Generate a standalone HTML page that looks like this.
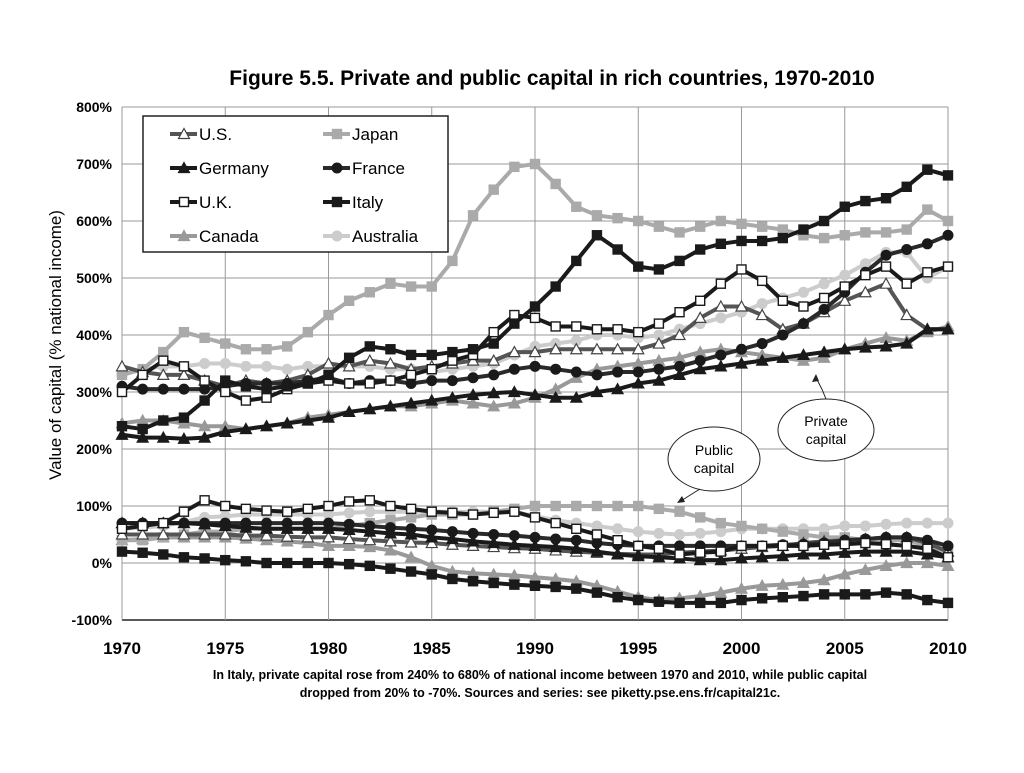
<!DOCTYPE html>
<html><head><meta charset="utf-8"><style>
body{margin:0;background:#fff;font-family:"Liberation Sans",Arial,sans-serif}
svg text{font-family:"Liberation Sans",Arial,sans-serif}
</style></head><body>
<svg id="c" width="1024" height="768" xmlns="http://www.w3.org/2000/svg">
<text x="552" y="85" text-anchor="middle" font-size="21" font-weight="bold">Figure 5.5. Private and public capital in rich countries, 1970-2010</text>
<g id="grid"></g><g id="series"></g>
<text transform="translate(61,345) rotate(-90)" text-anchor="middle" font-size="17">Value of capital (% national income)</text>
<text x="540" y="679" text-anchor="middle" font-size="12.5" font-weight="bold">In Italy, private capital rose from 240% to 680% of national income between 1970 and 2010, while public capital</text>
<text x="540" y="697" text-anchor="middle" font-size="12.5" font-weight="bold">dropped from 20% to -70%. Sources and series:  see piketty.pse.ens.fr/capital21c.</text>
<g>
<ellipse cx="826" cy="430" rx="48" ry="31" fill="#fff" stroke="#222"/>
<text x="826" y="426" text-anchor="middle" font-size="14">Private</text>
<text x="826" y="444" text-anchor="middle" font-size="14">capital</text>
<path d="M826 399 Q822 388 816 378" fill="none" stroke="#222"/><path d="M816 374 l-4 8 l7 -1z" fill="#222"/>
</g>
<g>
<ellipse cx="714" cy="459" rx="46" ry="32" fill="#fff" stroke="#222"/>
<text x="714" y="455" text-anchor="middle" font-size="14">Public</text>
<text x="714" y="473" text-anchor="middle" font-size="14">capital</text>
<path d="M700 489 Q690 495 681 501" fill="none" stroke="#222"/><path d="M677 503 l8 -1 l-3 -6z" fill="#222"/>
</g>
<g id="legend"><rect x="143" y="116" width="305" height="136" fill="#fff" stroke="#222" stroke-width="1.5"/></g>
</svg>
<script>
const years=[];for(let y=1970;y<=2010;y++)years.push(y);
const yTicks=[800,700,600,500,400,300,200,100,0,-100];
const xTicks=[1970,1975,1980,1985,1990,1995,2000,2005,2010];
const usPriv=[345,335,330,330,320,310,320,315,320,330,350,345,355,350,340,345,350,355,355,370,370,375,375,375,375,375,385,400,430,450,450,435,410,420,440,460,475,490,435,410,410];
const japanPriv=[330,340,370,405,395,385,375,375,380,405,435,460,475,490,485,485,530,610,655,695,700,665,625,610,605,600,590,580,590,600,595,590,585,575,570,575,580,580,585,620,600];
const germanyPriv=[225,220,220,218,220,230,235,240,245,250,255,265,270,275,280,285,290,295,298,300,295,290,290,300,305,315,320,330,340,345,350,355,360,365,370,375,378,380,385,410,410];
const francePriv=[310,305,305,305,305,310,315,315,315,320,325,315,320,320,315,320,320,325,330,340,345,340,335,330,335,335,340,345,355,365,375,385,400,420,445,475,510,540,550,560,575];
const ukPriv=[300,330,355,345,320,300,285,290,305,315,320,315,315,320,330,340,355,365,405,435,430,415,415,410,410,405,420,440,460,490,515,495,460,450,465,485,505,520,490,510,520];
const italyPriv=[240,235,250,255,285,320,310,305,310,315,330,360,380,375,365,365,370,375,385,420,450,485,530,575,550,520,515,530,550,560,565,565,570,585,600,625,635,640,660,690,680];
const canadaPriv=[245,250,250,245,240,240,235,240,245,255,260,265,270,275,275,280,285,280,275,280,290,305,325,340,345,350,355,360,370,375,370,365,360,355,360,375,385,395,390,405,415];
const australiaPriv=[330,340,345,345,350,350,345,345,340,345,345,345,345,340,340,335,340,345,350,365,380,385,390,400,400,395,400,410,420,430,440,455,465,475,490,505,525,545,545,500,520];
const usPub=[50,50,50,50,50,50,48,48,46,45,45,42,40,38,36,35,32,30,28,26,25,22,20,18,16,15,15,18,20,22,25,28,30,35,38,40,42,45,45,35,20];
const japanPub=[40,40,45,50,55,55,60,60,60,60,60,65,70,75,80,85,85,85,90,95,100,100,100,100,100,100,95,90,80,70,65,60,55,50,45,45,40,40,40,30,20];
const germanyPub=[70,70,70,70,68,65,62,60,60,60,60,58,55,52,50,45,42,38,35,32,30,28,25,20,15,12,10,8,5,5,8,10,12,15,15,18,20,20,20,15,10];
const francePub=[70,70,70,70,70,70,70,70,70,70,70,68,65,62,60,58,55,52,50,48,45,42,40,35,32,30,30,30,30,30,30,30,32,33,35,40,42,45,45,40,30];
const ukPub=[60,65,70,90,110,100,95,92,90,95,100,108,110,100,95,90,88,85,88,90,80,70,60,50,40,30,25,15,18,20,30,30,30,30,32,33,35,33,30,25,10];
const italyPub=[20,18,15,10,8,5,3,0,0,0,0,-2,-5,-10,-15,-20,-28,-32,-35,-38,-40,-42,-45,-52,-60,-65,-68,-70,-70,-70,-65,-62,-60,-58,-55,-55,-55,-52,-55,-65,-70];
const canadaPub=[40,42,45,45,45,45,43,40,38,35,30,30,28,22,10,-5,-15,-18,-20,-22,-25,-28,-32,-40,-50,-60,-65,-62,-58,-52,-45,-40,-38,-35,-30,-20,-12,-5,0,0,-5];
const australiaPub=[60,62,65,72,80,82,85,85,85,85,85,88,90,90,90,90,90,90,90,90,82,75,70,65,60,55,52,50,52,55,60,60,60,60,60,65,65,68,70,70,70];

const NS="http://www.w3.org/2000/svg";
const X=y=>122+(y-1970)*(948-122)/40;
const Y=v=>563-v*0.57;
function mk(t,a,p){const e=document.createElementNS(NS,t);for(const k in a)e.setAttribute(k,a[k]);p.appendChild(e);return e;}
const grid=document.getElementById('grid');
yTicks.forEach(v=>{
 const l=mk('line',{x1:122,x2:948,y1:Y(v),y2:Y(v),stroke:v==-100?'#222':'#999','stroke-width':v==-100?1.5:1},grid);
 
 
 const t=mk('text',{x:112,y:Y(v)+5,'text-anchor':'end','font-size':14,'font-weight':'bold'},grid);t.textContent=v+'%';
 
 
});
xTicks.forEach(y=>{
 const l=mk('line',{x1:X(y),x2:X(y),y1:Y(800),y2:Y(-100),stroke:'#999'},grid);
 
 
 const t=mk('text',{x:X(y),y:654,'text-anchor':'middle','font-size':17,'font-weight':'bold'},grid);t.textContent=y;
 
 
});
function marker(g,shape,x,y,fill,stroke,s){
 if(shape=='sq')return mk('rect',{x:x-s,y:y-s,width:2*s,height:2*s,fill,stroke,'stroke-width':1.4},g);
 if(shape=='ci')return mk('circle',{cx:x,cy:y,r:s,fill,stroke},g);
 return mk('path',{d:`M${x} ${y-s-1} L${x+s+1} ${y+s} L${x-s-1} ${y+s}Z`,fill,stroke,'stroke-width':1.2},g);
}
const defs=[
 ['us','U.S.',usPriv,usPub,'#555','tri','#fff','#444'],
 ['japan','Japan',japanPriv,japanPub,'#aaa','sq','#aaa','#aaa'],
 ['germany','Germany',germanyPriv,germanyPub,'#1a1a1a','tri','#1a1a1a','#1a1a1a'],
 ['france','France',francePriv,francePub,'#2a2a2a','ci','#1a1a1a','#1a1a1a'],
 ['uk','U.K.',ukPriv,ukPub,'#1a1a1a','sq','#fff','#1a1a1a'],
 ['italy','Italy',italyPriv,italyPub,'#1a1a1a','sq','#1a1a1a','#1a1a1a'],
 ['canada','Canada',canadaPriv,canadaPub,'#999','tri','#999','#999'],
 ['australia','Australia',australiaPriv,australiaPub,'#ccc','ci','#ccc','#ccc']
];
const sg=document.getElementById('series');
const order=[7,6,1,0,3,2,4,5];
order.forEach(i=>{const [id,name,pr,pu,col,sh,f,st]=defs[i];
 [[pr,'private'],[pu,'public']].forEach(([arr,kind])=>{
  const g=mk('g',{},sg);
  
  
  mk('polyline',{points:arr.map((v,j)=>X(years[j])+','+Y(v)).join(' '),fill:'none',stroke:col,'stroke-width':4},g);
  arr.forEach((v,j)=>{const m=marker(g,sh,X(years[j]),Y(v),f,st,sh=='ci'?5:4.5);
   
   });
 });
});
const lg=document.getElementById('legend');
defs.forEach(([id,name,pr,pu,col,sh,f,st],i)=>{
 const cx=i%2?323:170, cy=134+Math.floor(i/2)*34;
 const g=mk('g',{},lg);
 
 
 mk('line',{x1:cx,x2:cx+27,y1:cy,y2:cy,stroke:col,'stroke-width':4},g);
 marker(g,sh,cx+14,cy,f,st,sh=='ci'?5:4.5);
 const t=mk('text',{x:cx+29,y:cy+6,'font-size':17},g);t.textContent=name;
});
</script>
</body></html>
